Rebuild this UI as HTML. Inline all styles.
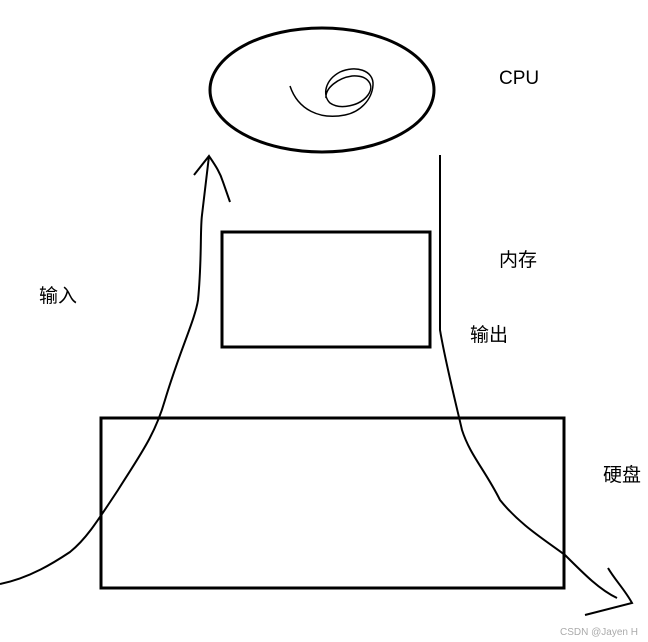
<!DOCTYPE html>
<html><head><meta charset="utf-8"><style>
body{margin:0;background:#fff;}
svg{display:block}
text{font-family:"Liberation Sans","Noto Sans CJK SC",sans-serif;fill:#000}
</style></head><body>
<svg width="648" height="642" viewBox="0 0 648 642">
<rect width="648" height="642" fill="#fff"/>
<ellipse cx="322" cy="90" rx="112" ry="62" fill="none" stroke="#000" stroke-width="3"/>
<path d="M290,86 C298,110 320,120 345,115 C360,112 372,100 373,85 C374,70 355,65 340,72 C325,80 322,95 330,103 C340,110 360,106 368,95 C375,85 368,75 352,76 C338,78 325,88 326,98" fill="none" stroke="#000" stroke-width="1.5"/>
<rect x="222" y="232" width="208" height="115" fill="none" stroke="#000" stroke-width="3"/>
<rect x="101" y="418" width="463" height="170" fill="none" stroke="#000" stroke-width="3"/>
<path d="M0,584 C30,578 55,562 70,552 C85,540 95,525 118,490 C140,455 155,435 165,400 C180,350 195,320 198,300 C202,260 200,230 202,215 L209,156" fill="none" stroke="#000" stroke-width="2"/>
<path d="M194,175 L209,156 C215,165 220,172 223,182 L230,202" fill="none" stroke="#000" stroke-width="2"/>
<path d="M440,155 L440,330 C445,360 455,400 462,430 C470,455 485,470 500,500 C520,525 545,540 565,555 C585,575 600,590 617,598" fill="none" stroke="#000" stroke-width="2"/>
<path d="M608,568 C615,580 625,590 632,603 L585,615" fill="none" stroke="#000" stroke-width="2"/>
<text x="499" y="84" font-size="19">CPU</text>
<text x="499" y="266" font-size="19">内存</text>
<text x="39" y="302" font-size="19">输入</text>
<text x="470" y="341" font-size="19">输出</text>
<text x="603" y="481" font-size="19">硬盘</text>
<text x="560" y="635" font-size="10" style="fill:#aaa">CSDN @Jayen H</text>
</svg>
</body></html>
